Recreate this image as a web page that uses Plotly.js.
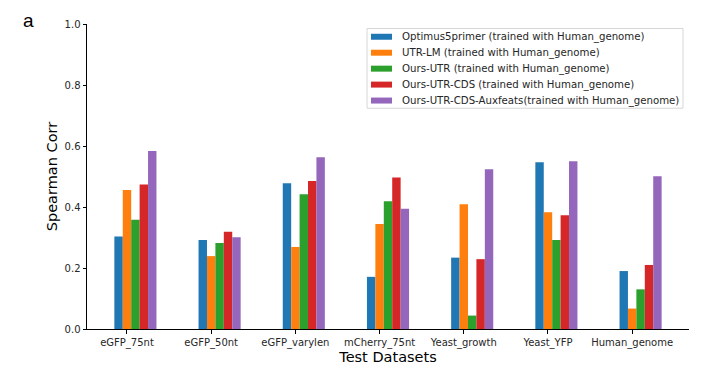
<!DOCTYPE html>
<html>
<head>
<meta charset="utf-8">
<script src="https://cdn.plot.ly/plotly-3.0.1.min.js"></script>
<style>html,body{margin:0;padding:0;background:#fff;}#chart{width:726px;height:369px;}</style>
</head>
<body>
<div id="chart"></div>
<script>
const categories = ["eGFP_75nt", "eGFP_50nt", "eGFP_varylen", "mCherry_75nt", "Yeast_growth", "Yeast_YFP", "Human_genome"];
const seriesNames = [
  "Optimus5primer (trained with Human_genome)",
  "UTR-LM (trained with Human_genome)",
  "Ours-UTR (trained with Human_genome)",
  "Ours-UTR-CDS (trained with Human_genome)",
  "Ours-UTR-CDS-Auxfeats(trained with Human_genome)"
];
const optimus = [0.303, 0.292, 0.478, 0.171, 0.234, 0.547, 0.190];
const utrlm   = [0.456, 0.239, 0.269, 0.344, 0.409, 0.383, 0.067];
const oursUtr = [0.358, 0.282, 0.442, 0.419, 0.044, 0.292, 0.130];
const oursUtrCds = [0.474, 0.319, 0.485, 0.497, 0.229, 0.373, 0.210];
const oursAux = [0.584, 0.301, 0.563, 0.394, 0.524, 0.550, 0.501];
const yTicks = [0, 0.2, 0.4, 0.6, 0.8, 1.0];

const seriesValues = [optimus, utrlm, oursUtr, oursUtrCds, oursAux];
const colors = ["#1f77b4", "#ff7f0e", "#2ca02c", "#d62728", "#9467bd"];
const barW = 0.1;

const traces = seriesValues.map((vals, k) => ({
  type: "bar",
  name: seriesNames[k],
  x: categories,
  y: vals,
  width: barW,
  offset: -0.15 + k * barW,
  marker: {color: colors[k], line: {width: 0}},
  hoverinfo: "skip",
  showlegend: false
}));

// plot area geometry (pixels) used to place the legend box in paper coordinates
const M = {l: 87, r: 37, t: 23.5, b: 39.5};
const W = 726, H = 369;
const pw = W - M.l - M.r, ph = H - M.t - M.b;
const px = x => (x - M.l) / pw;
const py = y => (H - M.b - y) / ph;

const shapes = [{
  type: "rect", xref: "paper", yref: "paper",
  x0: px(367), x1: px(683), y0: py(108), y1: py(28),
  fillcolor: "rgba(255,255,255,0.85)", line: {color: "#d6d6d6", width: 1}, layer: "above"
}];
const annotations = [{
  text: "a", xref: "paper", yref: "paper", x: px(21), y: py(7),
  xanchor: "left", yanchor: "top", showarrow: false,
  font: {size: 19, family: "Liberation Sans", color: "#000"}
}];
seriesNames.forEach((name, k) => {
  const cy = 36.3 + k * 16;
  shapes.push({
    type: "rect", xref: "paper", yref: "paper",
    x0: px(371), x1: px(392), y0: py(cy + 3), y1: py(cy - 3),
    fillcolor: colors[k], line: {width: 0}, layer: "above"
  });
  annotations.push({
    text: name, xref: "paper", yref: "paper", x: px(400), y: py(cy),
    xanchor: "left", yanchor: "middle", showarrow: false,
    font: {size: 10.2, family: "DejaVu Sans", color: "#262626"}
  });
});

const layout = {
  width: W, height: H,
  margin: M,
  paper_bgcolor: "#fff", plot_bgcolor: "#fff",
  barmode: "overlay",
  showlegend: false,
  font: {family: "DejaVu Sans", color: "#262626"},
  xaxis: {
    type: "category",
    range: [-0.475, 6.675],
    showgrid: false, zeroline: false,
    showline: true, linecolor: "#000", linewidth: 1,
    ticks: "outside", ticklen: 3.5, tickwidth: 1, tickcolor: "#000",
    tickfont: {size: 10, family: "DejaVu Sans", color: "#262626"},
    title: {text: "Test Datasets", font: {size: 14.5, family: "DejaVu Sans", color: "#000"}, standoff: 4}
  },
  yaxis: {
    range: [0, 1],
    tickvals: yTicks,
    ticktext: yTicks.map(v => v.toFixed(1)),
    showgrid: false, zeroline: false,
    showline: true, linecolor: "#000", linewidth: 1,
    ticks: "outside", ticklen: 3.5, tickwidth: 1, tickcolor: "#000",
    tickfont: {size: 10, family: "DejaVu Sans", color: "#262626"},
    title: {text: "Spearman Corr", font: {size: 14.5, family: "DejaVu Sans", color: "#000"}, standoff: 3}
  },
  shapes: shapes,
  annotations: annotations
};

Plotly.newPlot("chart", traces, layout, {displayModeBar: false, staticPlot: true});
</script>
</body>
</html>
